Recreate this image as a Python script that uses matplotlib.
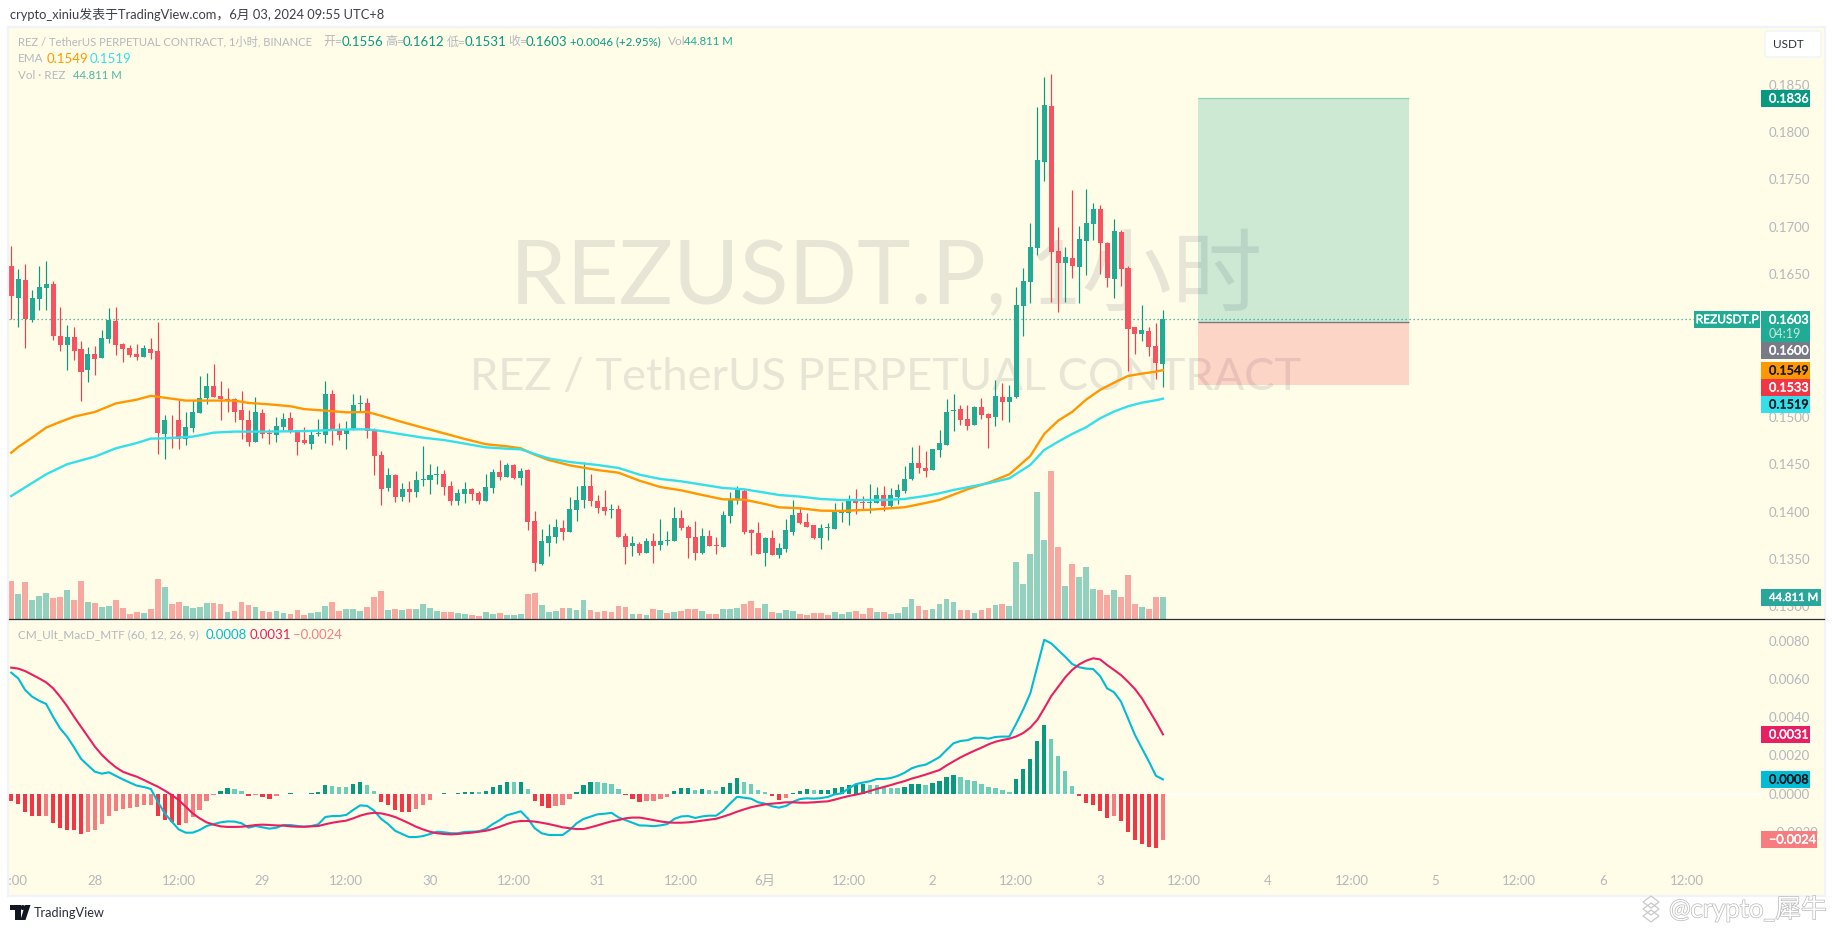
import matplotlib
matplotlib.use("Agg")
import matplotlib.pyplot as plt
import matplotlib.patheffects as pe
from matplotlib.patches import Rectangle, Polygon, Circle, FancyBboxPatch
import numpy as np

plt.rcParams['font.family'] = ['Lato', 'Noto Sans CJK SC', 'DejaVu Sans']

# candles, prices in ten-thousandths
opens = [1659,1625,1644,1602,1624,1636,1640,1585,1576,1584,1571,1549,1566,1562,1582,1601,1577,1572,1566,1563,1571,1569,1482,1497,1496,1477,1488,1504,1520,1532,
 1522,1519,1519,1507,1496,1473,1504,1483,1481,1489,1499,1486,1475,1471,1482,1481,1524,1487,1482,1486,1513,1514,1486,1460,1425,1439,1415,1424,1421,1433,
 1433,1439,1440,1427,1411,1419,1424,1420,1411,1425,1442,1436,1449,1435,1444,1390,1345,1367,1373,1383,1378,1402,1412,1427,1411,1405,1402,1403,1374,1364,
 1366,1356,1369,1365,1369,1369,1393,1384,1373,1356,1374,1365,1363,1395,1413,1422,1381,1377,1356,1372,1354,1361,1379,1398,1389,1386,1372,1383,1382,1399,
 1398,1412,1410,1409,1409,1418,1406,1415,1422,1434,1451,1446,1444,1465,1470,1506,1508,1498,1491,1510,1503,1500,1521,1516,1521,1617,1642,1678,1768,1827,
 1675,1662,1667,1658,1685,1703,1719,1683,1645,1695,1657,1595,1587,1590,1575,1556]
highs = [1680,1656,1661,1634,1659,1664,1643,1616,1597,1595,1580,1573,1575,1591,1615,1616,1578,1576,1577,1576,1583,1600,1502,1502,1518,1505,1518,1543,1546,1556,
 1538,1530,1520,1527,1507,1521,1508,1487,1500,1504,1505,1486,1489,1485,1498,1538,1528,1493,1495,1524,1523,1520,1488,1464,1446,1440,1430,1432,1443,1469,
 1450,1448,1444,1432,1424,1431,1425,1422,1440,1445,1454,1451,1450,1446,1445,1401,1382,1387,1392,1391,1415,1427,1452,1440,1418,1423,1408,1407,1377,1374,
 1368,1372,1377,1392,1380,1405,1402,1386,1390,1383,1381,1373,1401,1421,1427,1424,1382,1389,1373,1381,1367,1392,1412,1405,1399,1386,1387,1388,1409,1410,
 1417,1424,1416,1429,1426,1427,1425,1429,1448,1468,1470,1464,1466,1486,1519,1524,1512,1512,1511,1520,1504,1539,1536,1533,1637,1657,1704,1826,1858,1861,
 1700,1679,1739,1701,1740,1725,1723,1684,1708,1697,1659,1595,1618,1595,1599,1612]
lows = [1603,1595,1572,1600,1612,1612,1581,1569,1549,1560,1517,1537,1544,1562,1578,1565,1558,1563,1560,1563,1561,1461,1455,1467,1466,1470,1484,1504,1513,1521,
 1497,1505,1494,1477,1469,1473,1478,1471,1473,1486,1483,1460,1471,1466,1480,1472,1470,1475,1466,1486,1505,1478,1439,1407,1422,1410,1411,1410,1415,1427,
 1419,1429,1418,1407,1407,1409,1412,1408,1411,1420,1433,1436,1434,1428,1381,1337,1344,1353,1367,1370,1378,1390,1404,1406,1399,1396,1393,1373,1345,1353,
 1354,1356,1346,1360,1365,1369,1381,1351,1349,1355,1364,1355,1363,1388,1408,1376,1354,1355,1343,1354,1351,1357,1375,1387,1384,1371,1361,1370,1382,1389,
 1386,1397,1403,1399,1409,1401,1405,1408,1420,1433,1441,1436,1444,1458,1470,1485,1491,1486,1491,1498,1467,1490,1497,1494,1520,1585,1620,1670,1748,1621,
 1610,1621,1646,1620,1649,1686,1650,1637,1625,1638,1548,1566,1580,1564,1540,1531]
closes = [1627,1645,1603,1625,1637,1640,1585,1576,1584,1569,1547,1566,1561,1583,1602,1576,1571,1565,1563,1572,1567,1483,1497,1496,1476,1489,1505,1520,1532,1521,
 1519,1518,1505,1496,1473,1505,1482,1482,1490,1498,1485,1473,1472,1481,1483,1524,1486,1481,1487,1512,1514,1485,1459,1424,1439,1415,1424,1421,1433,1434,
 1439,1440,1426,1411,1420,1424,1419,1411,1426,1442,1436,1449,1435,1443,1389,1346,1369,1374,1384,1379,1403,1412,1427,1411,1404,1401,1403,1373,1363,1367,
 1356,1369,1364,1369,1370,1393,1383,1372,1356,1374,1364,1364,1396,1413,1423,1379,1377,1355,1372,1354,1362,1381,1396,1388,1384,1372,1383,1384,1400,1400,
 1413,1409,1409,1410,1418,1406,1417,1423,1434,1451,1446,1443,1466,1472,1505,1507,1496,1490,1510,1502,1499,1522,1515,1521,1618,1643,1679,1771,1828,1674,
 1662,1668,1659,1687,1704,1719,1683,1646,1696,1656,1592,1587,1591,1573,1557,1603]

# volume in millions, and the colour of each volume bar
volumes = [76.9,50.8,74.9,38.8,46.8,52.9,42.8,44.8,58.9,38.8,76.9,34.8,32.8,24.8,26.8,38.8,22.7,10.7,14.7,12.7,20.7,80.9,64.9,30.8,34.8,26.8,22.7,24.8,32.8,32.8,
 30.8,14.7,16.7,34.8,28.8,24.8,16.7,14.7,16.7,12.7,10.7,18.7,8.7,12.7,14.7,26.8,34.8,16.7,20.7,20.7,16.7,24.8,44.8,56.9,18.7,20.7,18.7,20.7,20.7,30.8,
 22.7,16.7,14.7,14.7,12.7,10.7,8.7,6.7,14.7,10.7,12.7,8.7,8.7,10.7,50.8,52.9,28.8,14.7,16.7,22.7,22.7,18.7,38.8,18.7,14.7,16.7,14.7,26.8,24.8,10.7,
 10.7,8.7,20.7,18.7,12.7,14.7,16.7,20.7,20.7,16.7,10.7,10.7,20.7,20.7,22.7,30.8,36.8,22.7,30.8,14.7,12.7,18.7,16.7,10.7,8.7,12.7,12.7,8.7,14.7,10.7,
 14.7,16.7,10.7,22.7,14.7,14.7,10.7,12.7,24.8,40.8,26.8,18.7,20.7,30.8,40.8,34.8,18.7,18.7,12.7,18.7,22.7,28.8,30.8,26.8,115,70.9,131,254,159,298,
 145,66.9,111,85,105,60.9,58.9,48.8,58.9,44.8,89,30.8,24.8,20.7,44.8,44.811]
vol_dir = ("rgrgggrrgr" "rgrggrrrrg" "rrgrrggggr" "rgrrrgrrgg" "rrrgggrrgg" "grrrgrgrgg" "ggrrggrrgg" "rgggrrgggr"
           "gggrrrrrrg" "rgrgrgrrrg" "rrgggrrrgr" "gggrrrrrgg" "grrrgrgggg" "rrggggrrgr" "rgrggggggr" "rgrgggrrgr" "rrgrrg")

# EMA lines, read at these bars
ema_fast_idx = [0,1,3,5,7,9,12,15,18,20,22,25,29,32,34,37,40,42,45,48,51,53,56,59,62,65,68,71,73,75,77,80,82,84,87,90,93,96,99,102,105,108,110,113,116,119,123,125,128,131,133,135,137,140,143,146,148,150,152,154,156,158,160,162,164,165]
ema_fast = [1462,1468,1478,1488.5,1494.5,1500,1505,1514,1518,1522,1520,1517,1517,1517,1514.5,1513,1511,1508,1506.4,1504.6,1505,1501,1494.4,1488.4,1482.5,1476.5,1471,1468.8,1466.7,1460,1454.4,1448.8,1446.3,1443.8,1441,1432.6,1425.9,1422.4,1417.5,1412.9,1412.6,1408,1404.5,1403.5,1401,1400.7,1402,1403,1404.6,1409.1,1412.3,1417.9,1423.5,1430.5,1439.3,1458.6,1481.8,1495.9,1505,1518,1528.2,1535.9,1542.9,1545.4,1547.5,1549]
ema_slow_idx = [0,1,5,8,12,15,18,20,22,26,29,32,36,40,43,46,49,51,53,56,59,62,65,68,71,73,75,77,80,84,87,90,93,96,99,102,105,108,110,113,116,119,123,125,128,131,133,135,137,140,143,146,148,150,152,154,156,158,160,162,164,165]
ema_slow = [1416.4,1421,1439.3,1449.9,1458,1466.7,1472.3,1476.9,1477.2,1479,1483.2,1484.3,1484.3,1484.6,1485,1486,1486.7,1486.7,1485,1481.4,1477.9,1475.4,1471.6,1467.7,1466.3,1465.6,1460.7,1456.1,1452.3,1449.1,1446,1438.9,1434.4,1431.9,1428.4,1424.9,1423.5,1420,1417.5,1415.8,1413.3,1412.2,1412.2,1412.3,1413.3,1416.5,1419.3,1422.8,1425.6,1429.9,1435.1,1449.2,1465,1473.7,1481.8,1488.9,1498.3,1505.4,1511,1514.8,1517.3,1519]

# macd, in ten-thousandths
macd_line = [63.4,60.4,54.3,50.8,48.7,47,40.3,34.2,29.9,24.3,18.3,14.8,11.5,10.5,11.2,9.3,7.5,5.8,4.2,3.5,2.5,-4.2,-10.3,-14.6,-18.7,-20.4,-20.4,-19,-16.9,-15.9,
 -15,-14.5,-14.6,-15.5,-17.8,-16.9,-17.6,-18.3,-17.8,-16.4,-16.4,-16.9,-17.3,-16.9,-16,-12.2,-11.7,-11.7,-11.1,-8.5,-6.1,-6.4,-8.9,-13.2,-15.9,-19.4,-21.1,-22.7,-22.7,-22.2,
 -21.1,-19.9,-20.2,-20.7,-20.7,-20,-19.9,-19.7,-18.5,-15.9,-13.8,-11.3,-10.3,-9.2,-12.9,-18.1,-20.7,-21.6,-21.6,-21.6,-19,-15.5,-13.2,-12,-10.8,-10.5,-10,-12.4,-13.8,-15.2,
 -16.6,-16.7,-17,-16.6,-15.9,-13.2,-11.9,-11.7,-12.7,-11.9,-11.5,-11.5,-8.9,-5.1,-1.6,-2.1,-2.6,-4.5,-5.2,-6.6,-7.3,-6.4,-4.2,-2.8,-2.4,-2.6,-2.3,-1.7,-0.3,0.2,
 2.8,5,5.8,6.5,7.7,7.7,8.2,9.3,11,13.3,14.5,15.2,17.1,19.2,22.9,26.4,27.6,28,29.3,29.3,28.8,29.7,29.9,29.9,36.8,44.2,52.5,66.5,80.6,78.7,
 75.2,71.7,67.9,66.2,65.5,65.3,61.6,55.2,53.1,48.2,39.4,30.7,23.8,16.8,9.4,7.5]
signal_line = [66,65.5,64.2,62.3,60.4,58.3,55.2,50.8,45.9,40.3,35.1,29.9,24.6,20.3,16.8,13.8,11.5,10.1,8.9,7.2,5.4,3.7,1.6,-0.7,-3.3,-6.8,-10.3,-12.9,-15,-16.2,
 -17.1,-17.4,-17.4,-17.3,-16.9,-16.4,-16.2,-16.4,-16.6,-16.7,-17.1,-17.3,-17.3,-17.1,-16.9,-16,-15.2,-14.6,-14.1,-12.9,-11.5,-10.5,-10,-10.3,-11.1,-12.2,-13.8,-15.5,-17.3,-18.7,
 -19.9,-20.7,-21.1,-21.3,-21.1,-20.7,-20.4,-19.9,-19.4,-18.5,-17.3,-15.9,-14.8,-14.3,-14.3,-14.6,-15.2,-15.9,-16.7,-17.6,-18.1,-18.5,-18.5,-17.6,-16.6,-15.5,-14.5,-13.8,-12.9,-12.5,
 -12.5,-13.1,-13.8,-14.5,-15,-15.2,-15.2,-15,-14.6,-14.1,-13.6,-13.1,-12,-10.8,-9.4,-8.2,-7.1,-6.3,-5.6,-5.2,-4.9,-4.5,-4.5,-4.7,-4.7,-4.5,-4.2,-4,-3.1,-2.1,
 -1.2,-0.5,0.3,1.4,2.5,3.5,4.5,5.6,6.6,7.9,8.9,10,11.2,12.4,14.8,16.9,19,20.8,22.5,24.1,25.8,27.2,28.1,28.8,30,31.8,34.6,38.6,44.7,51.1,
 56,60.9,64.8,67.7,69.6,70.9,70.3,67.4,64.8,62.1,58.6,54.8,49.9,43.8,37.7,31.1]
hist = [-3.7,-5.2,-9.8,-11.5,-11.5,-11.5,-15.2,-17.8,-18.8,-19.2,-20.9,-19.9,-18.8,-15.7,-11.9,-9.2,-7.9,-7.3,-6.8,-5.8,-5.8,-11.5,-13.6,-14.7,-16.2,-15.2,-12,-8.4,-3.7,-0.9,
 1.2,3.1,2.6,1.6,-1.4,-0.7,-1.6,-2.6,-1.4,-0.2,0.5,0.1,-0.1,0.5,1,4.7,4.2,3.7,3.7,5.2,6.3,4.7,1.6,-4.2,-5.8,-8.4,-9.4,-9.4,-7.9,-5.8,
 -3.1,-0.2,0.5,0.1,0.5,1,1,1,1.6,3.7,4.7,6.3,6.3,6.3,2.6,-3.7,-6.3,-7.3,-6.3,-5.8,-2.6,1,4.7,6.3,6.3,5.8,5.2,2.6,-0.5,-2.6,
 -4.2,-4,-3.7,-2.6,-1.6,1.6,3.1,3.1,2.1,2.6,2.1,1.6,3.7,5.8,8.4,6.3,5.2,2.1,1,-1,-3.1,-2.1,0.5,1.6,2.6,2.1,2.1,2.1,3.1,3.7,
 4.7,5.2,5.2,4.7,4.7,3.7,3.1,3.1,3.7,5.2,5.2,4.7,5.8,6.8,8.9,9.9,8.9,7.3,6.8,5.2,3.7,3.1,2.1,1,7.9,13.1,18.3,27.7,36.1,28.8,
 19.9,12,4.2,-1.4,-4.7,-5.8,-8.9,-12.6,-11.5,-14.1,-19.9,-24.1,-26.2,-27.7,-28.3,-24.1]
hist_col = ("SSSSSPSSSS" "SPPPPPPPPP" "PSSSSPPPPP" "DDLLSPSSPP" "DLPDDDLLLD" "DLLSSSSSPP" "PPDLDDDLDD" "DDLDLSSSPP"
            "PDDDLLLLSS" "SPPPPDDDLD" "LLDDDLLLLS" "SPDDDLDDDD" "DDDLLLLLDD" "DLDDDDLLLL" "LLLLDDDDDL" "LLLSSSSSPS" "SSSSSP")

# long position tool
pos_left, pos_right = 170, 200.3
pos_target, pos_entry, pos_stop = 0.1836, 0.1600, 0.1533

price_ticks = [0.13 + 0.005 * k for k in range(12)]
macd_ticks = [0.008, 0.006, 0.004, 0.002, 0.0, -0.002]
xtick_pos = [0, 12, 24, 36, 48, 60, 72, 84, 96, 108, 120, 132, 144, 156, 168, 180, 192, 204, 216, 228, 240]
xtick_lab = ["12:00", "28", "12:00", "29", "12:00", "30", "12:00", "31", "12:00", "6月", "12:00", "2", "12:00", "3", "12:00", "4", "12:00", "5", "12:00", "6", "12:00"]

W, H = 1835, 931
BG = "#fffde8"
UP, DOWN = "#22ab94", "#f7525f"
GREY = "#b4b7be"

o, h, l, c = [np.array(a) / 1e4 for a in (opens, highs, lows, closes)]
bars = np.arange(len(o))


def px_axes(fig, left, top, right, bottom, **kw):
    return fig.add_axes([left / W, 1 - bottom / H, (right - left) / W, (bottom - top) / H], **kw)


fig = plt.figure(figsize=(W / 100, H / 100), dpi=100, facecolor="white")

xlim = ((9 - 11.2) / 6.98, (1824 - 11.2) / 6.98)

# volume sits under the candles and carries the watermark
vol_ax = px_axes(fig, 9, 28, 1824, 619, zorder=1, facecolor=BG)
vol_ax.set_xlim(xlim)
vol_ax.set_ylim(0, 591 / 0.4983)
vol_ax.set_xticks([])
vol_ax.set_yticks([])
for s in vol_ax.spines.values():
    s.set_visible(False)
vol_ax.bar(bars, volumes, width=0.82, linewidth=0,
           color=["#92d0c0" if d == "g" else "#f7a8a0" for d in vol_dir])
vol_ax.text((886 - 9) / 1815, 1 - (276 - 28) / 591, "REZUSDT.P, 1小时", transform=vol_ax.transAxes,
            fontsize=65, color="#e6e5d6", ha="center", va="center")
vol_ax.text((886 - 9) / 1815, 1 - (378 - 28) / 591, "REZ / TetherUS PERPETUAL CONTRACT", transform=vol_ax.transAxes,
            fontsize=32.6, color="#e6e5d6", ha="center", va="center")

# price
ax = px_axes(fig, 9, 28, 1824, 619, zorder=2)
ax.patch.set_visible(False)
ax.set_xlim(xlim)
ax.set_ylim(0.15 - (619 - 416.7) / 9490, 0.15 + (416.7 - 28) / 9490)
for s in ax.spines.values():
    s.set_visible(False)
ax.set_xticks([])
ax.yaxis.tick_right()
ax.set_yticks(price_ticks)
ax.set_yticklabels(["%.4f" % t for t in price_ticks])
ax.tick_params(axis="y", length=0, pad=-39.6, labelsize=9.5, labelcolor=GREY)

up = c >= o
ax.vlines(bars, l, h, colors=np.where(up, "#089981", "#f23f4d"), linewidth=0.85, zorder=3)
ax.bar(bars, c - o, bottom=o, width=0.72, linewidth=0, color=np.where(up, UP, DOWN), zorder=4)
ax.plot(ema_fast_idx, np.array(ema_fast) / 1e4, color="#ff9800", lw=1.7, zorder=5)
ax.plot(ema_slow_idx, np.array(ema_slow) / 1e4, color="#33e0ea", lw=1.7, zorder=5)

ax.add_patch(Rectangle((pos_left, pos_entry), pos_right - pos_left, pos_target - pos_entry,
                       facecolor="#089981", alpha=0.2, linewidth=0, zorder=2))
ax.add_patch(Rectangle((pos_left, pos_stop), pos_right - pos_left, pos_entry - pos_stop,
                       facecolor="#f23645", alpha=0.2, linewidth=0, zorder=2))
ax.hlines(pos_target, pos_left, pos_right, color="#089981", alpha=0.3, lw=1, zorder=2)
ax.hlines(pos_entry, pos_left, pos_right, color="#787b86", lw=1, zorder=2)
ax.axhline(c[-1], xmax=(1694 - 9) / 1815, color="#22ab94", lw=0.9, ls=(0, (1, 2.2)), zorder=3)

# macd
mx = px_axes(fig, 9, 620, 1824, 895, zorder=1, facecolor=BG)
mx.set_xlim(xlim)
mx.set_ylim((793.7 - 895) / 19100, (793.7 - 620) / 19100)
for s in mx.spines.values():
    s.set_visible(False)
hist_colors = {"D": "#089981", "L": "#6ccdb9", "S": "#f23645", "P": "#f77c80"}
mx.axhline(0, xmax=(1760 - 9) / 1815, color="white", lw=1, zorder=1)
mx.bar(bars, np.array(hist) / 1e4, width=0.62, linewidth=0, color=[hist_colors[k] for k in hist_col], zorder=2)
mx.plot(bars, np.array(macd_line) / 1e4, color="#00bcd4", lw=1.5, zorder=3)
mx.plot(bars, np.array(signal_line) / 1e4, color="#e91e63", lw=1.5, zorder=4)
mx.yaxis.tick_right()
mx.set_yticks(macd_ticks)
mx.set_yticklabels(["%.4f" % t if t >= 0 else "\u2212%.4f" % abs(t) for t in macd_ticks])
mx.tick_params(axis="y", length=0, pad=-39.6, labelsize=9.5, labelcolor=GREY)
mx.set_xticks(xtick_pos)
mx.set_xticklabels(xtick_lab)
mx.tick_params(axis="x", length=0, pad=-14.5, labelsize=9.5, labelcolor=GREY)
for lab in mx.get_xticklabels():
    lab.set_clip_on(True)
    lab.set_clip_box(mx.bbox)

# everything around the plots is laid out in screen pixels
ov = fig.add_axes([0, 0, 1, 1], zorder=5)
ov.set_xlim(0, W)
ov.set_ylim(H, 0)
ov.axis("off")
ov.patch.set_visible(False)

ov.add_patch(Rectangle((8, 27), 1817, 869, fill=False, edgecolor="#f0f3fa", lw=1.6))
ov.plot([9, 1824], [619.3, 619.3], color="#2a2e39", lw=0.9)


def label(x, y, s, color=GREY, size=9.5, **kw):
    ov.text(x, y, s, color=color, fontsize=size, va="center", ha=kw.pop("ha", "left"), **kw)


def heavy(color):
    return [pe.withStroke(linewidth=0.3, foreground=color)]


def tag(top, bottom, s, bg, fg="white", left=1761, right=1810, size=9.1):
    ov.add_patch(Rectangle((left, top), right - left, bottom - top, facecolor=bg, linewidth=0))
    label(1769, (top + bottom) / 2, s, color=fg, size=size, path_effects=heavy(fg))


label(9.5, 14.7, "crypto_xiniu发表于TradingView.com，6月 03, 2024 09:55 UTC+8", color="#3c3f49", size=9.3)

label(18, 41.7, "REZ / TetherUS PERPETUAL CONTRACT, 1小时, BINANCE", size=8.15)
for x, s in [(323, "开="), (385, "高="), (447, "低="), (508, "收=")]:
    label(x, 41.7, s, size=8.65)
for x, s in [(342, "0.1556"), (403, "0.1612"), (465, "0.1531"), (526, "0.1603")]:
    label(x, 41.7, s, color="#089981")
label(570, 41.7, "+0.0046 (+2.95%)", color="#089981", size=8.3)
label(668, 41.7, "Vol", size=8.6)
label(684, 41.7, "44.811 M", color="#22ab94", size=8.2)
label(18, 58.7, "EMA", size=8.4)
label(47, 58.7, "0.1549", color="#ff9800")
label(90, 58.7, "0.1519", color="#33e0ea")
label(18, 75.7, "Vol · REZ", size=8.4)
label(73, 75.7, "44.811 M", color="#4db8a5", size=8.2)
label(18, 634.7, "CM_Ult_MacD_MTF (60, 12, 26, 9)", size=8.45)
label(206, 634.7, "0.0008", color="#00bcd4")
label(249.5, 634.7, "0.0031", color="#e91e63")
label(293, 634.7, "\u22120.0024", color="#f77c80")

ov.add_patch(FancyBboxPatch((1767, 33), 52, 22, boxstyle="round,pad=2,rounding_size=3",
                            facecolor="white", edgecolor="#f0f3fa", lw=1))
label(1788, 45, "USDT", color="#2a2e39", size=8.4, ha="center")

tag(90, 107, "0.1836", "#089981")
ov.add_patch(Rectangle((1694, 311), 65.5, 17, facecolor="#22ab94", linewidth=0))
label(1727, 319.7, "REZUSDT.P", color="white", ha="center", size=8.6, path_effects=heavy("white"))
tag(311, 342, "", "#22ab94")
label(1769, 319.7, "0.1603", color="white", size=9.1, path_effects=heavy("white"))
label(1769, 333.7, "04:19", color="#bfe8de", size=9.1)
tag(342, 359, "0.1600", "#787b86")
tag(362, 379, "0.1549", "#ff9800", fg="#131722")
tag(379, 396, "0.1533", "#f23645")
tag(396, 413, "0.1519", "#33e0ea", fg="#131722")
tag(589, 606, "44.811 M", "#2aa79b", right=1821, size=8.2)
tag(726, 743, "0.0031", "#e91e63")
tag(771, 788, "0.0008", "#00bcd4", fg="#131722")
tag(831, 848, "\u22120.0024", "#f77c80", right=1817)

# TradingView logo
ov.add_patch(Polygon([(9.5, 905), (20.5, 905), (20.5, 920), (15, 920), (15, 910), (9.5, 910)], facecolor="#131722", linewidth=0))
ov.add_patch(Circle((22.8, 907.5), 2.5, facecolor="#131722", linewidth=0))
ov.add_patch(Polygon([(25, 905), (30.5, 905), (25.5, 920), (20.5, 920)], facecolor="#131722", linewidth=0))
label(33.5, 913, "TradingView", color="#2a2e39", size=9.2)

# repost watermark bottom right
for cy in (902, 909, 916):
    ov.add_patch(Polygon([(1651 - 8, cy), (1651, cy - 6), (1651 + 8, cy), (1651, cy + 6)],
                         fill=False, edgecolor="#c9c9c9", lw=0.9))
ov.text(1669, 909, "@crypto_犀牛", fontsize=18.5, color="white", va="center", ha="left",
        path_effects=[pe.withStroke(linewidth=1.0, foreground="#b9b9b9")])

fig.savefig("out.png", dpi=100, facecolor="white")
